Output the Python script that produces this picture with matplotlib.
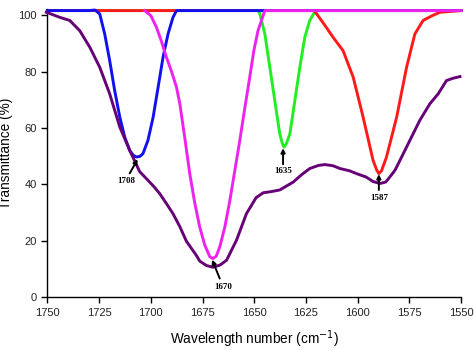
import matplotlib
matplotlib.use('Agg')
import matplotlib.pyplot as plt

# =========================
# Dados
# =========================
BASE_T = 101.6

# Espectro experimental (roxo)
exp_w = [1750.5, 1744, 1739.2, 1734.4, 1729.5, 1724.7, 1719.9, 1715, 1710.2,
         1705.4, 1698.9, 1695.7, 1692.5, 1689.3, 1686, 1682.8, 1678, 1676.4,
         1673.1, 1670, 1666.5, 1663.4, 1658.6, 1653.8, 1649.1, 1645.7, 1642,
         1637.7, 1631.2, 1627, 1623.2, 1619, 1615.9, 1612, 1608.6, 1604,
         1600.6, 1596, 1592.6, 1589.3, 1586.5, 1584.5, 1582, 1579.6, 1574.8,
         1570, 1565.1, 1561.1, 1557.1, 1554, 1550.6]
exp_t = [101, 99.2, 98.1, 94.5, 88.6, 81.5, 72.1, 60.3, 52.0,
         44.5, 39.5, 36.7, 33.2, 29.6, 25.0, 19.8, 14.8, 12.8,
         11.2, 10.6, 11.4, 13.1, 20.2, 29.6, 35.3, 37.0, 37.4,
         38.0, 40.8, 43.5, 45.6, 46.7, 47.0, 46.6, 45.6, 44.8,
         43.8, 42.6, 41.0, 40.3, 40.8, 42.6, 45.0, 48.5, 55.6,
         62.7, 68.6, 72.1, 76.8, 77.6, 78.2]

# Componente 1708 (azul)
b_w = [1750, 1730, 1727, 1724.7, 1722.3, 1719.9, 1717.5, 1715, 1712.6,
       1710.2, 1708.5, 1707, 1705.3, 1703.8, 1701.4, 1698.9, 1696.5, 1694.1,
       1691.7, 1689.3, 1687.6, 1550]
b_t = [BASE_T, BASE_T, 101.8, 100.4, 93.3, 83.9, 73.3, 63.8, 56.7,
       52.0, 50.3, 49.7, 49.9, 50.9, 55.6, 63.8, 74.4, 85.1,
       93.3, 99.2, BASE_T, BASE_T]

# Componente 1670 (magenta)
m_w = [1703, 1700, 1697.3, 1694.8, 1692.5, 1690, 1687.6, 1686, 1683.6,
       1681.2, 1678.8, 1676.4, 1674, 1671.5, 1670, 1668.4, 1666.7, 1664.2,
       1661.8, 1659.4, 1657, 1654.6, 1652.2, 1650.2, 1648.2, 1644.9, 1550]
m_t = [BASE_T, 99.8, 95.7, 90.5, 85.1, 80.0, 74.4, 68.6, 56.5,
       43.8, 33.5, 24.9, 18.6, 14.3, 13.7, 14.5, 17.8, 25.0,
       34.3, 45.0, 55.6, 67.0, 78.0, 87.5, 94.5, BASE_T, BASE_T]

# Componente 1635 (verde)
g_w = [1750, 1648.2, 1647.3, 1644.9, 1642.5, 1640.1, 1637.7, 1636.5, 1635.6,
       1634.5, 1632.8, 1630.4, 1628, 1625.6, 1623.2, 1620.4, 1550]
g_t = [BASE_T, BASE_T, 100.4, 93.3, 81.5, 69.7, 57.9, 54.6, 53.2,
       54.4, 57.9, 69.7, 81.5, 92.1, 98.1, BASE_T, BASE_T]

# Componente 1587 (vermelho)
r_w = [1750, 1621, 1616, 1611.9, 1607.1, 1602.2, 1597.4, 1592.6, 1590.8,
       1589.8, 1588.5, 1586.1, 1581.2, 1576.4, 1572.4, 1568.4, 1564, 1560.3,
       1550]
r_t = [BASE_T, BASE_T, 96.5, 92.1, 87.4, 78.0, 63.8, 48.5, 45.0,
       43.8, 44.8, 49.7, 63.8, 81.5, 93.3, 98.1, 99.8, 101.0,
       BASE_T]

# Anotações: texto, posição do texto, início e ponta da seta
ann_txt = ['1708', '1670', '1635', '1587']
ann_pos = [(1711.8, 41.1), (1665.1, 3.6), (1636.1, 44.6), (1589.8, 35.3)]
ann_tail = [(1710.2, 43.9), (1666.7, 6.6), (1636.1, 47.1), (1589.8, 38.0)]
ann_head = [(1706.4, 48.9), (1670.4, 13.3), (1636.1, 52.8), (1589.8, 43.6)]

x_ticks = [1750, 1725, 1700, 1675, 1650, 1625, 1600, 1575, 1550]
y_ticks = [0, 20, 40, 60, 80, 100]

# =========================
# Figura
# =========================
plt.rcParams['font.family'] = ['Liberation Sans', 'DejaVu Sans']

fig = plt.figure(figsize=(4.74, 3.5), dpi=100)
ax = fig.add_axes([0.1, 0.151, 0.873, 0.822])

lw = 2.1
ax.plot(g_w, g_t, color='#22ee22', lw=lw, clip_on=False, zorder=2)
ax.plot(r_w, r_t, color='#ff1a1a', lw=lw, clip_on=False, zorder=2)
ax.plot(b_w, b_t, color='#1010f0', lw=lw, clip_on=False, zorder=3)
ax.plot(m_w, m_t, color='#ee22ee', lw=lw, clip_on=False, zorder=4)
ax.plot(exp_w, exp_t, color='#660077', lw=lw, clip_on=False, zorder=5)

for txt, pos, tail, head in zip(ann_txt, ann_pos, ann_tail, ann_head):
    ax.annotate('', xy=head, xytext=tail,
                arrowprops=dict(arrowstyle='-|>', color='black', lw=1.4,
                                mutation_scale=6, shrinkA=0, shrinkB=0),
                zorder=6)
    ax.text(pos[0], pos[1], txt, ha='center', va='center', fontsize=6.5,
            fontweight='bold', family=['Liberation Serif', 'DejaVu Serif'],
            zorder=6)

ax.set_xlim(1750, 1550)
ax.set_ylim(0, 102)
ax.set_xticks(x_ticks)
ax.set_yticks(y_ticks)
ax.tick_params(labelsize=8, length=4, width=1, colors='black',
               labelcolor='#222222')

for s in ['top', 'right']:
    ax.spines[s].set_visible(False)
for s in ['left', 'bottom']:
    ax.spines[s].set_linewidth(1)

ax.set_xlabel('Wavelength number (cm$^{-1}$)', fontsize=9.8)
ax.xaxis.set_label_coords(0.5, -0.108)
ax.set_ylabel('Transmittance (%)', fontsize=9.8)
ax.yaxis.set_label_coords(-0.083, 0.5)

fig.savefig('out.png', dpi=100)
